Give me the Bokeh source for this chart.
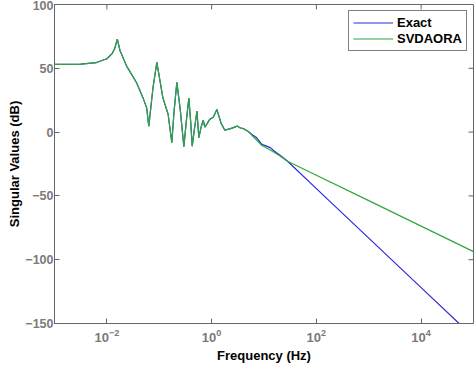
from bokeh.plotting import figure
from bokeh.models import FixedTicker, Legend, LegendItem, Range1d
from bokeh.embed import file_html
from bokeh.resources import INLINE
import math

# shared low-frequency response (log10 Hz, dB)
shared_logf = [-3.0, -2.5, -2.2, -2.0, -1.9, -1.85, -1.80, -1.75, -1.62, -1.43, -1.31, -1.24, -1.20,
               -1.12, -1.046, -0.93, -0.83, -0.76, -0.72, -0.664, -0.6, -0.53, -0.48, -0.435,
               -0.4, -0.37, -0.33, -0.28, -0.244, -0.2, -0.16, -0.13, -0.08, -0.04, 0.03, 0.1,
               0.18, 0.25, 0.35, 0.49, 0.54, 0.62]
shared_db = [53.0, 53.3, 54.5, 57.5, 61.5, 65.5, 72.9, 64.0, 51.5, 38.5, 26.8, 19.0, 4.7,
             34.6, 54.7, 26.8, 13.8, -8.3, 15.0, 39.0, 18.0, -11.5, 10.0, 26.6,
             8.0, -11.0, 2.0, 16.4, -4.4, 4.0, 9.4, 3.9, 7.0, 9.9, 11.7, 17.7,
             7.0, 1.6, 2.5, 4.7, 3.4, 2.5]

exact_tail_logf = [0.7, 0.77, 0.85, 0.96, 1.05, 1.12, 1.2, 1.3, 1.44, 2.0, 3.0, 4.0, 4.73, 5.0]
exact_tail_db = [0.5, -1.8, -4.0, -9.6, -11.0, -12.2, -15.0, -18.0, -22.5, -44.3, -83.1, -121.9, -150.2, -160.6]

svd_tail_logf = [0.7, 0.77, 0.96, 1.12, 1.3, 1.44, 2.0, 3.0, 4.0, 5.0]
svd_tail_db = [0.5, -2.5, -10.5, -14.0, -18.5, -22.7, -33.8, -53.7, -73.7, -93.7]

x_ticks = [1e-2, 1e0, 1e2, 1e4]
y_ticks = [-150, -100, -50, 0, 50, 100]
y_tick_labels = ["\u2212150", "\u2212100", "\u221250", "0", "50", "100"]

x_min, x_max = 1e-3, 1e5
y_min, y_max = -150, 100

exact_f = [10 ** v for v in shared_logf + exact_tail_logf]
exact_db = shared_db + exact_tail_db
svd_f = [10 ** v for v in shared_logf + svd_tail_logf]
svd_db = shared_db + svd_tail_db

GREY = "#7a7a7a"
AX = "#666666"
FONT = "Liberation Sans"

p = figure(width=474, height=372, x_axis_type="log", output_backend="svg", toolbar_location=None,
           x_range=Range1d(x_min, x_max), y_range=Range1d(y_min, y_max),
           min_border_left=54, min_border_right=1, min_border_top=4, min_border_bottom=49,
           x_axis_label="Frequency (Hz)", y_axis_label="Singular Values (dB)")
p.grid.visible = False
p.outline_line_color = AX
p.background_fill_color = "white"
p.border_fill_color = "white"

r1 = p.line(exact_f, exact_db, line_color="#2a2ad8", line_width=1.2)
r2 = p.line(svd_f, svd_db, line_color="#2ea836", line_width=1.2)

# box ticks on top and right edges
p.scatter(x_ticks, [y_max] * len(x_ticks), marker="dash", angle=math.pi / 2, size=10,
          line_color=AX, line_width=1)
p.scatter([x_max] * len(y_ticks), y_ticks, marker="dash", size=10, line_color=AX, line_width=1)

xa = p.xaxis[0]
xa.ticker = FixedTicker(ticks=x_ticks, minor_ticks=[])
ya = p.yaxis[0]
ya.ticker = FixedTicker(ticks=y_ticks, minor_ticks=[])
ya.major_label_overrides = {t: l for t, l in zip(y_ticks, y_tick_labels)}

for ax in (xa, ya):
    ax.axis_line_color = AX
    ax.major_tick_line_color = AX
    ax.major_tick_in = 5
    ax.major_tick_out = 0
    ax.minor_tick_line_color = None
    ax.major_label_text_color = GREY
    ax.major_label_text_font = FONT
    ax.major_label_text_font_style = "bold"
    ax.major_label_text_font_size = "13px"
    ax.major_label_text_line_height = 1.0
    ax.axis_label_text_font = FONT
    ax.axis_label_text_font_style = "bold"
    ax.axis_label_text_font_size = "13px"
    ax.axis_label_text_line_height = 1.0
    ax.axis_label_text_color = "black"
ya.major_label_text_font_size = "12.5px"
xa.major_label_standoff = 5
xa.axis_label_standoff = 3
ya.major_label_standoff = 1
ya.axis_label_standoff = 0

legend = Legend(items=[LegendItem(label="Exact", renderers=[r1]),
                       LegendItem(label="SVDAORA", renderers=[r2])],
                location="top_right", margin=6, padding=4, spacing=1,
                glyph_width=40, glyph_height=15, label_standoff=4, label_height=15,
                label_text_font=FONT, label_text_font_style="bold", label_text_font_size="13px",
                label_text_color="black", border_line_color="black", border_line_width=1,
                background_fill_alpha=1.0)
p.add_layout(legend)

open("out.html", "w").write(file_html(p, INLINE))
